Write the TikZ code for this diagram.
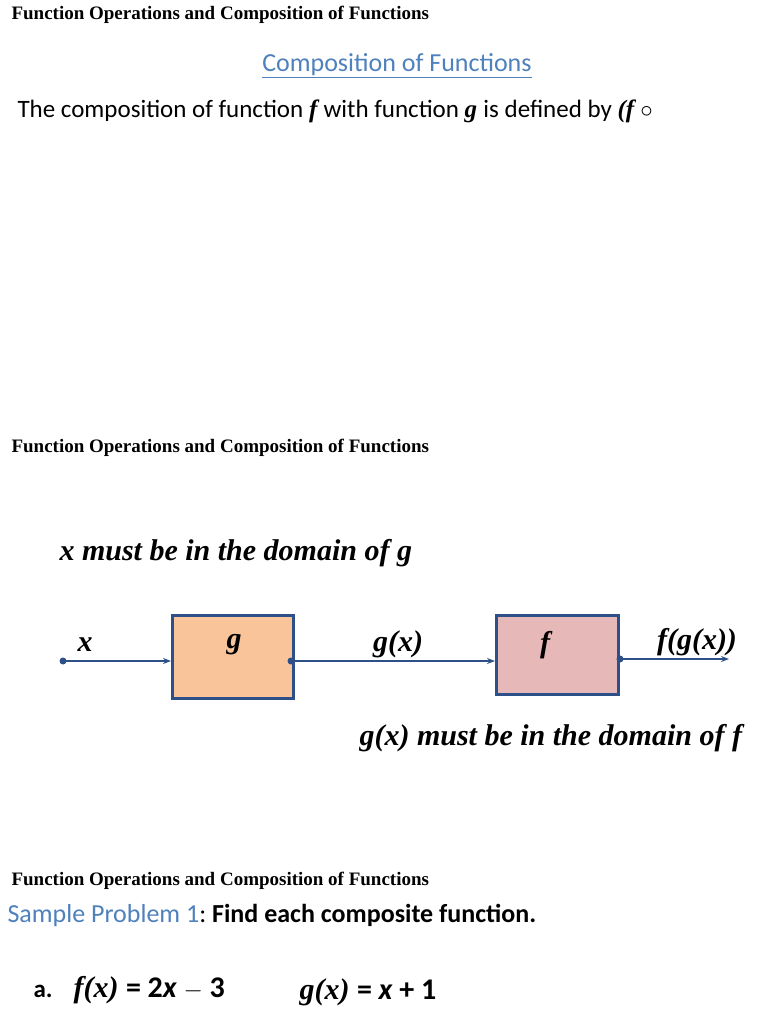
\documentclass[tikz,border=0pt]{standalone}
\usepackage{fontspec}
\setmainfont{Carlito}
\newfontfamily\hdr{Liberation Serif}
\usetikzlibrary{arrows.meta}
\definecolor{lineblue}{HTML}{2E5088}
\definecolor{titleblue}{HTML}{4F81BD}
\definecolor{gfill}{HTML}{F9C499}
\definecolor{ffill}{HTML}{E6B8B7}
\begin{document}
\begin{tikzpicture}[x=1pt,y=-1pt,
  header/.style={anchor=west,font=\hdr\bfseries\fontsize{19}{22}\selectfont},
  mth/.style={font=\hdr\bfseries\itshape\fontsize{30}{34}\selectfont},
  fbox/.style={draw=lineblue,line width=3pt,anchor=north west,inner sep=0},
  conn/.style={draw=lineblue,line width=2pt,-{Stealth[length=8pt,width=6pt]}},
  dotc/.style={circle,fill=lineblue,inner sep=0,minimum size=7pt}]
\useasboundingbox (0,0) rectangle (768,1024);
\fill[white] (0,0) rectangle (768,1024);
\node[header] (h1) at (8,15) {Function Operations and Composition of Functions};
\node (t1) at (397,66) {\fontsize{26}{30}\selectfont\color{titleblue}\underline{Composition of Functions}};
\node[anchor=west] (d1) at (14,111) {\fontsize{25}{30}\selectfont The composition of function \hdr\bfseries\itshape f\ \normalfont\fontsize{25}{30}\selectfont with function \hdr\bfseries\itshape g\ \normalfont\fontsize{25}{30}\selectfont is defined by \hdr\bfseries\itshape (f \normalfont$\circ$};
\node[header] (h2) at (8,448) {Function Operations and Composition of Functions};
\node[mth,anchor=west] (m1) at (56,553) {x must be in the domain of g};
\node[fbox,fill=gfill,minimum width=121pt,minimum height=83pt] (g) at (171,614) {};
\node[fbox,fill=ffill,minimum width=122pt,minimum height=79pt] (f) at (495,614) {};
\node[mth] at (234,645) {g};
\node[mth] at (545,645) {f};
\node[dotc] (p0) at (63,661) {};
\coordinate (gin) at (171,661);
\node[dotc] (p1) at (291,661) {};
\coordinate (fin) at (495,661);
\node[dotc] (p2) at (620,659) {};
\coordinate (end) at (729,659);
\draw[conn] (p0.center) -- (gin);
\draw[conn] (p1.center) -- (fin);
\draw[conn] (p2.center) -- (end);
\node[mth] at (85,645) {x};
\node[mth] at (398,644) {g(x)};
\node[mth] at (697,642) {f(g(x))};
\node[mth,anchor=west] (m2) at (356,738) {g(x) must be in the domain of f};
\node[header] (h3) at (8,881) {Function Operations and Composition of Functions};
\node[anchor=west] (s1) at (4,915) {\fontsize{26}{30}\selectfont\color{titleblue}Sample Problem 1\color{black}:\ \bfseries Find each composite function.};
\node[anchor=west] (a1) at (30,991) {\fontsize{25}{30}\selectfont\bfseries a.};
\node[mth,anchor=west] (a2) at (70,990) {f(x) \normalfont\bfseries= 2\itshape x \normalfont\bfseries$-$ 3};
\node[mth,anchor=west] (a3) at (296,992) {g(x) \normalfont\bfseries= \itshape x \normalfont\bfseries+ 1};
\end{tikzpicture}
\end{document}
